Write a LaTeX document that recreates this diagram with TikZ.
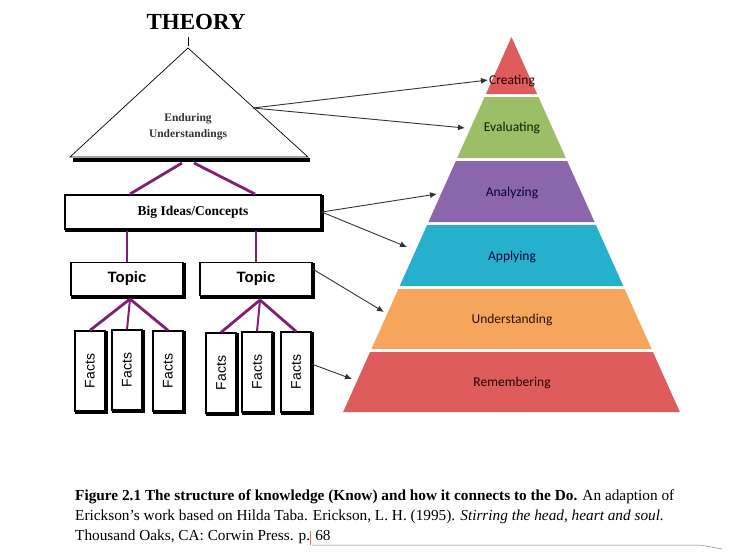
\documentclass[tikz,border=0pt]{standalone}
\usepackage{fontspec}
\setmainfont{Liberation Serif}
\newfontfamily\calfont{Carlito}
\newfontfamily\hvfont{Liberation Sans}
\usetikzlibrary{arrows.meta}
\definecolor{pred}{RGB}{222,92,92}
\definecolor{pgreen}{RGB}{156,190,102}
\definecolor{ppurple}{RGB}{140,102,172}
\definecolor{pcyan}{RGB}{38,176,206}
\definecolor{porange}{RGB}{246,166,92}
\definecolor{lnk}{RGB}{130,30,115}
\tikzset{
 box/.style={draw,line width=1.3pt,fill=white,inner sep=0pt,font=\bfseries},
 shadowbox/.style={box,
   preaction={draw,line width=3pt,transform canvas={shift={(1.8pt,-1.8pt)}}}},
 link/.style={draw=lnk,line width=2.8pt},
 arr/.style={-{Latex[length=7pt,width=6pt]},line width=0.9pt,draw=black!80},
 band/.style={font=\calfont\fontsize{13.5}{14}\selectfont},
}
\begin{document}
\begin{tikzpicture}[x=1pt,y=-1pt]
\useasboundingbox (0,0) rectangle (733,558);
% pyramid
\def\band#1#2#3{%
 \fill[#3] ({511.5-0.449*(#1-37)},#1) -- ({511.5+0.449*(#1-37)},#1) -- ({511.5+0.449*(#2-37)},#2) -- ({511.5-0.449*(#2-37)},#2) -- cycle;}
\band{37}{94}{pred}
\band{97}{158}{pgreen}
\band{161}{222}{ppurple}
\band{225}{286}{pcyan}
\band{289}{349}{porange}
\band{352}{412}{pred}
\node[band,text=black!85!red] (cr) at (512,81) {Creating};
\node[band,text=black!85!green] (ev) at (512,128) {Evaluating};
\node[band,text=black!80!blue] (an) at (512,193) {Analyzing};
\node[band,text=black!80!blue] (ap) at (512,257) {Applying};
\node[band,text=black!85!orange] (un) at (512,320) {Understanding};
\node[band,text=black!85!red] (re) at (512,383) {Remembering};
\coordinate (crL) at (488,80);
\coordinate (evL) at (465,128);
\coordinate (anL) at (437,194);
\coordinate (apL) at (407,247);
\coordinate (unL) at (384,312);
\coordinate (reL) at (352,379);
% theory
\node[font=\bfseries\fontsize{23}{24}\selectfont] (th) at (196,22) {THEORY};
\draw[line width=1pt] (188,37) -- (188,46);
\draw[line width=0.7pt,fill=white] (188,48) -- (70,157) -- (308,157) -- cycle;
\coordinate (eu) at (253,108);
\draw[line width=3.5pt] (73,160) -- (310,160);
\node[font=\bfseries\fontsize{11.5}{16}\selectfont,align=center,text=black!80] (end) at (188,127) {Enduring\\Understandings};
% big ideas
\node[shadowbox,minimum width=256pt,minimum height=34pt,font=\bfseries\fontsize{13.5}{14}\selectfont] (big) at (193,212) {Big Ideas/Concepts};
\draw[link] (182,163) -- (130,194);
\draw[link] (194,163) -- (255,194);
\node[shadowbox,minimum width=112pt,minimum height=33pt,font=\hvfont\bfseries\fontsize{15}{15}\selectfont] (t1) at (127,279) {Topic};
\node[shadowbox,minimum width=112pt,minimum height=33pt,font=\hvfont\bfseries\fontsize{15}{15}\selectfont] (t2) at (256,279) {Topic};
\draw[line width=1.5pt,draw=lnk] (127,231) -- (t1.north);
\draw[line width=1.5pt,draw=lnk] (256,231) -- (t2.north);
% facts
\foreach \n/\x/\y in {f1/90/371,f2/127/370,f3/168/371,f4/221/373,f5/257/372,f6/296/372}{
 \node[shadowbox,minimum width=30pt,minimum height=80pt] (\n) at (\x,\y) {};
 \node[rotate=90,font=\hvfont\fontsize{14}{14}\selectfont] at (\n) {Facts};
}
\draw[link] (130,299) -- (f1.north);
\draw[link,line width=2pt] (130,299) -- (f2.north);
\draw[link] (130,299) -- (f3.north);
\draw[link] (260,300) -- (f4.north);
\draw[link,line width=2pt] (260,300) -- (f5.north);
\draw[link] (260,300) -- (f6.north);
% arrows
\draw[arr] (eu) -- (crL);
\draw[arr] (eu) -- (evL);
\draw[arr] (big.east) -- (anL);
\draw[arr] (big.east) -- (apL);
\draw[arr] ([yshift=10pt]t2.east) -- (unL);
\draw[arr] ([yshift=8pt]f6.east) -- (reL);
% caption
\node[anchor=west,font=\fontsize{15.3}{20}\selectfont,align=left,inner sep=0] (cap) at (75,517) {%
\textbf{Figure 2.1 The structure of knowledge (Know) and how it connects to the Do.} An adaption of\\
Erickson’s work based on Hilda Taba. Erickson, L. H. (1995). \textit{Stirring the head, heart and soul.}\\
Thousand Oaks, CA: Corwin Press. p. 68};
\draw[red!60,line width=0.5pt] (310,531) -- (310,545);
\draw[black!50,line width=0.5pt] (312,545) -- (700,545) -- (722,549);
\end{tikzpicture}
\end{document}
